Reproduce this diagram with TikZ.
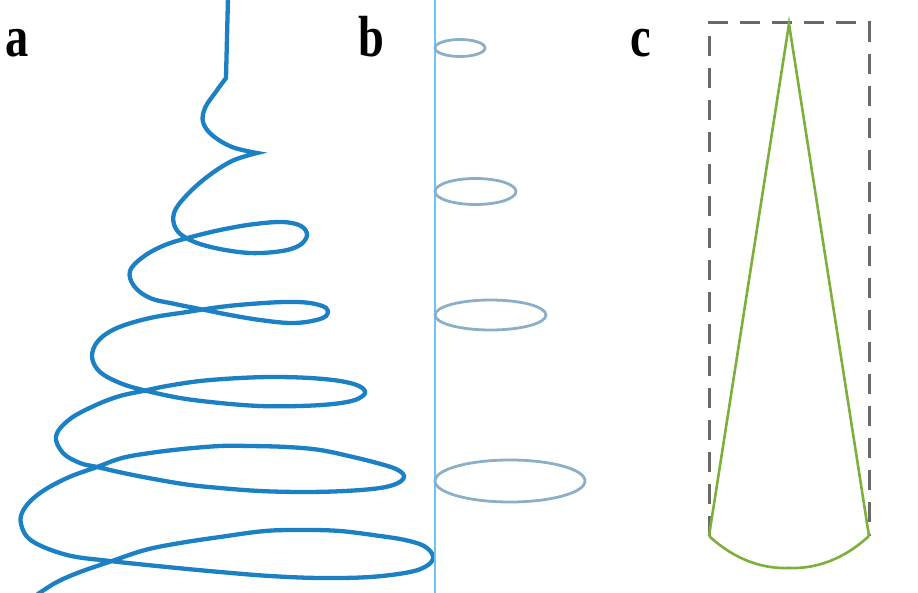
\documentclass[tikz,border=0pt]{standalone}
\usepackage{fontspec}
\setmainfont{Liberation Serif}
\usepackage{graphicx}
\definecolor{spiral}{RGB}{28,128,196}
\definecolor{axisb}{RGB}{110,195,240}
\definecolor{ringb}{RGB}{140,175,200}
\definecolor{conec}{RGB}{125,175,60}
\definecolor{dashc}{RGB}{105,105,105}
\tikzset{
  lab/.style={anchor=base west, inner sep=0pt, font=\fontsize{58}{58}\selectfont\bfseries},
  spiralline/.style={draw=spiral, line width=4.3pt, line join=miter},
  ringline/.style={draw=ringb, line width=2.8pt},
  coneline/.style={draw=conec, line width=2.6pt, line join=miter},
  boxline/.style={draw=dashc, line width=3pt, dash pattern=on 20pt off 12pt},
}
\begin{document}
\begin{tikzpicture}[x=1pt,y=-1pt]
\useasboundingbox (0,0) rectangle (918,593);
% labels
\node[lab] (la) at (5,57) {\scalebox{0.8}[1]{a}};
\node[lab] (lb) at (358,57) {\scalebox{0.8}[1]{b}};
\node[lab] (lc) at (630,57) {\scalebox{0.8}[1]{c}};
% panel a: conical spiral
\draw[spiralline] (228,-3) -- (226,78)
  -- plot[smooth, tension=0.6] coordinates {(226,78) (215,93) (205,108) (203,122) (212,135) (232,147) (257,153)}
  -- plot[smooth, tension=0.6] coordinates {(257,153) (232,161) (207,177) (186,196) (174,213) (176,229) (190,240) (215,248) (250,253) (282,251) (300,245) (307,235) (301,226) (283,222) (255,224) (225,229) (195,236) (165,245) (143,257) (130,271) (134,286) (150,298) (175,304) (200,309) (230,315) (260,320) (290,323) (312,321) (326,316) (326,308) (310,303) (285,302) (250,304) (220,307) (187,312) (150,318) (117,328) (98,341) (92,357) (100,372) (120,383) (143,390) (180,398) (220,403) (260,406) (300,406) (333,404) (355,400) (365,393) (359,386) (340,381) (310,378) (275,377) (240,378) (200,381) (167,386) (143,391) (120,396) (96,405) (70,419) (56,436) (63,453) (80,463) (97,467) (133,475) (183,484) (220,488) (260,491) (303,492) (345,491) (380,488) (398,483) (404,476) (396,469) (377,463) (353,457) (320,450) (287,447) (250,446) (220,446) (183,449) (150,453) (122,458) (97,467) (67,478) (40,493) (24,509) (21,524) (32,541) (67,555) (110,561) (167,567) (220,572) (270,576) (320,578) (370,577) (410,572) (428,565) (433,556) (424,546) (405,540) (380,536) (340,531) (303,530) (265,531) (220,537) (180,543) (145,550) (112,561) (80,572) (57,582) (38,594) (33,598)};
% panel b: axis and rings
\draw[draw=axisb, line width=2.5pt] (435,0) -- (435,593);
\draw[ringline] (460,48) ellipse[x radius=25, y radius=8.5];
\draw[ringline] (475.5,191.5) ellipse[x radius=40.5, y radius=13];
\draw[ringline] (490.5,315) ellipse[x radius=55.5, y radius=15];
\draw[ringline] (510,481) ellipse[x radius=75, y radius=21];
% panel c: box and cone
\coordinate (cbl) at (709,536);
\coordinate (ctl) at (709,23);
\coordinate (ctr) at (869,23);
\coordinate (cbr) at (869,536);
\coordinate (apex) at (789,24);
\draw[boxline] (cbl) -- (ctl) -- (ctr) -- (cbr);
\draw[coneline] (cbl) -- (apex) -- (cbr);
\draw[coneline] (cbl) .. controls (735,560) and (763,569) .. (789,568) .. controls (815,569) and (843,560) .. (cbr);
\end{tikzpicture}
\end{document}
